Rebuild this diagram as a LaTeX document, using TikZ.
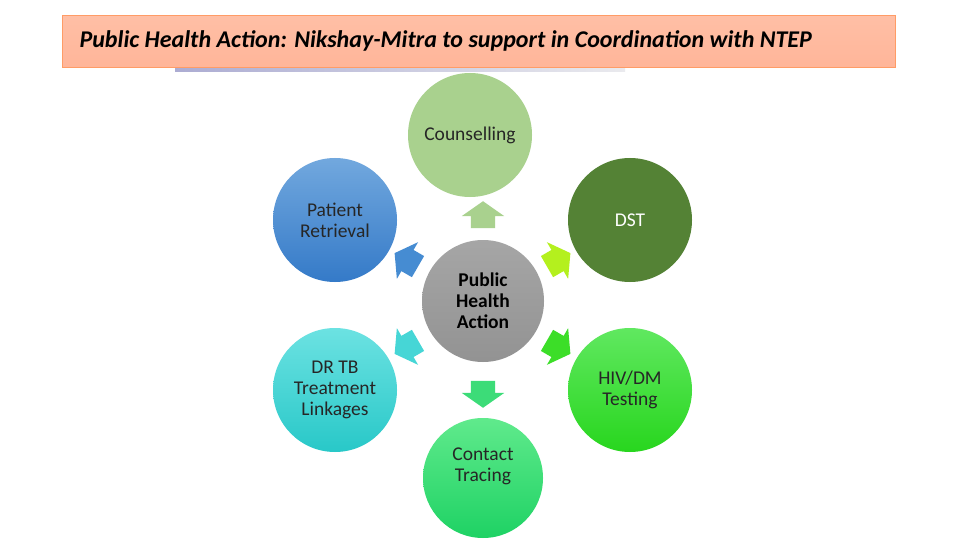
\documentclass[tikz,border=0pt]{standalone}
\usepackage{fontspec}
\setmainfont{Carlito}
\usetikzlibrary{shapes.arrows}
\begin{document}
\begin{tikzpicture}[x=1pt,y=-1pt,
 circ/.style={circle,minimum size=124pt,inner sep=0pt,align=center,font=\fontsize{19.5}{21}\selectfont,text=black!85},
 arr/.style={single arrow,minimum height=27pt,inner xsep=0pt,inner ysep=12pt,single arrow head extend=9pt,single arrow tip angle=110,draw=none,anchor=center}]
\useasboundingbox (0,0) rectangle (960,540);
\fill[white] (0,0) rectangle (960,540);
\node[draw=orange!70!red!60,line width=0.8pt,top color=orange!25!pink!80,bottom color=orange!55!red!40,minimum width=833pt,minimum height=52pt,anchor=north west,inner sep=0pt] (title) at (62,15) {};
\node[anchor=west,font=\bfseries\itshape\fontsize{24}{26}\selectfont] (tt) at (76,41) {Public Health Action: Nikshay-Mitra to support in Coordination with NTEP};
\fill[left color=blue!30!gray!50,right color=blue!10!gray!15] (175,69) rectangle (625,72);
\node[circ,fill={rgb,255:red,169;green,209;blue,142}] (c) at (470,135) {Counselling};
\node[circ,top color={rgb,255:red,114;green,168;blue,222},bottom color={rgb,255:red,52;green,122;blue,200}] (pr) at (335,220) {Patient\\Retrieval};
\node[circ,fill={rgb,255:red,84;green,130;blue,53},text=white] (dst) at (630,220) {DST};
\node[circ,top color={rgb,255:red,108;green,226;blue,226},bottom color={rgb,255:red,40;green,200;blue,200}] (dr) at (335,390) {DR TB\\Treatment\\Linkages};
\node[circ,top color={rgb,255:red,96;green,232;blue,96},bottom color={rgb,255:red,40;green,214;blue,30}] (hiv) at (630,390) {HIV/DM\\Testing};
\node[circ,top color={rgb,255:red,96;green,234;blue,140},bottom color={rgb,255:red,30;green,210;blue,100},minimum size=120pt] (ct) at (483,478) {Contact\\Tracing\\[6pt]};
\node[circ,minimum size=122pt,top color=gray!70,bottom color=gray!85,font=\bfseries\fontsize{19.5}{21}\selectfont,text=black] (pha) at (483,301) {Public\\Health\\Action};
\node[arr,rotate=90,fill={rgb,255:red,169;green,209;blue,142}] (a1) at (483,219) {};
\node[arr,rotate=150,fill={rgb,255:red,70;green,140;blue,210}] (a2) at (410,262) {};
\node[arr,rotate=30,fill={rgb,255:red,180;green,240;blue,30}] (a3) at (555,262) {};
\node[arr,rotate=210,fill={rgb,255:red,70;green,214;blue,214}] (a4) at (410,345) {};
\node[arr,rotate=-30,fill={rgb,255:red,60;green,222;blue,40}] (a5) at (555,345) {};
\node[arr,rotate=-90,fill={rgb,255:red,60;green,220;blue,120}] (a6) at (483,390) {};
\end{tikzpicture}
\end{document}
